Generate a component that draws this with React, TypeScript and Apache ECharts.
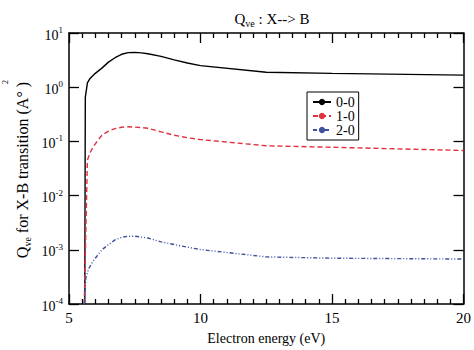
import React, { useEffect, useRef } from "react";
import * as echarts from "echarts";

const energy00 = [5.6, 5.62, 5.7, 5.8, 6.0, 6.25, 6.5, 6.75, 7.0, 7.25, 7.5, 7.75, 8.0, 8.5, 9.0, 9.5, 10, 12.5, 15, 20];
const q00 = [1e-4, 0.65, 1.2, 1.45, 1.8, 2.25, 2.9, 3.5, 4.05, 4.35, 4.4, 4.3, 4.15, 3.7, 3.2, 2.8, 2.5, 1.89, 1.8, 1.67];

const energy10 = [5.58, 5.7, 5.8, 5.9, 6.0, 6.25, 6.5, 6.75, 7.0, 7.25, 7.5, 8.0, 8.5, 9.0, 9.5, 10, 12.5, 15, 20];
const q10 = [1e-4, 0.045, 0.062, 0.076, 0.09, 0.13, 0.155, 0.172, 0.182, 0.186, 0.184, 0.175, 0.15, 0.13, 0.117, 0.108, 0.083, 0.078, 0.068];

const energy20 = [5.58, 5.64, 5.75, 5.9, 6.0, 6.25, 6.5, 6.75, 7.0, 7.25, 7.5, 8.0, 8.5, 9.0, 9.5, 10, 12.5, 15, 20];
const q20 = [1e-4, 0.0003, 0.00045, 0.0006, 0.0007, 0.001, 0.00125, 0.00152, 0.0017, 0.00178, 0.00178, 0.00165, 0.0014, 0.00125, 0.00112, 0.00101, 0.00074, 0.0007, 0.000675];

const seriesNames = ["0-0", "1-0", "2-0"];
const xTickLabels = ["5", "10", "15", "20"];

const FONT = "Liberation Serif";

export default function App() {
  const ref = useRef<HTMLDivElement>(null);
  useEffect(() => {
    if (!ref.current) return;
    const chart = echarts.init(ref.current, null, { renderer: "svg" });
    const zip = (xs: number[], ys: number[]) => xs.map((x, i) => [x, ys[i]]);
    const axisLineStyle = { color: "#000", width: 1.5 };
    const xCommon = {
      type: "value" as const,
      min: 5,
      max: 20,
      interval: 5,
      splitLine: { show: false },
      axisLine: { show: true, onZero: false, lineStyle: axisLineStyle },
      axisTick: { show: true, inside: true, length: 10, lineStyle: { color: "#000", width: 1.3 } },
      minorTick: { show: true, splitNumber: 10, length: 5, lineStyle: { color: "#000", width: 1.3 } },
    };
    const yCommon = {
      type: "log" as const,
      logBase: 10,
      min: 1e-4,
      max: 10,
      splitLine: { show: false },
      axisLine: { show: true, onZero: false, lineStyle: axisLineStyle },
      axisTick: { show: true, inside: true, length: 10, lineStyle: { color: "#000", width: 1.3 } },
      minorTick: { show: false },
    };
    chart.setOption({
      animation: false,
      textStyle: { fontFamily: FONT },
      title: {
        text: "{n|Q}{sub|ve}{n| : X--> B}",
        left: 267,
        textAlign: "center",
        top: 4,
        textStyle: {
          fontFamily: FONT,
          fontWeight: "normal",
          rich: {
            n: { fontFamily: FONT, fontSize: 15, color: "#000", lineHeight: 20, verticalAlign: "middle" },
            sub: { fontFamily: FONT, fontSize: 10, color: "#000", padding: [9, 0, 0, 0], lineHeight: 20 },
          },
        },
      },
      grid: { left: 69, right: 8, top: 33, bottom: 40, containLabel: false },
      legend: {
        orient: "vertical",
        left: 307,
        top: 92,
        data: seriesNames,
        borderColor: "#000",
        borderWidth: 1,
        borderRadius: 0,
        padding: [3, 4, 3, 5],
        itemGap: 0,
        itemWidth: 18,
        itemHeight: 8,
        textStyle: { fontFamily: FONT, fontSize: 14, color: "#000", lineHeight: 13, padding: [0, 0, 0, 0] },
      },
      xAxis: [
        {
          ...xCommon,
          position: "bottom",
          name: "Electron energy (eV)",
          nameLocation: "middle",
          nameGap: 27,
          nameTextStyle: { fontFamily: FONT, fontSize: 14, color: "#000" },
          axisLabel: {
            show: true,
            margin: 6,
            fontFamily: FONT,
            fontSize: 15,
            color: "#000",
            formatter: (v: number) => (xTickLabels.includes(String(v)) ? String(v) : ""),
          },
        },
        { ...xCommon, position: "top", axisLabel: { show: false } },
      ],
      yAxis: [
        {
          ...yCommon,
          position: "left",
          axisLabel: {
            show: true,
            margin: 6,
            formatter: (v: number) => {
              const e = Math.round(Math.log10(v));
              return "{b|10}{s|" + e + "}";
            },
            rich: {
              b: { fontFamily: FONT, fontSize: 14, color: "#000", lineHeight: 16, padding: [4, 0, 0, 0] },
              s: { fontFamily: FONT, fontSize: 9, color: "#000", lineHeight: 16, padding: [0, 0, 6, 0] },
            },
          },
        },
        { ...yCommon, position: "right", axisLabel: { show: false } },
      ],
      graphic: [
        {
          type: "text",
          x: 22,
          y: 170,
          rotation: Math.PI / 2,
          style: {
            text: "{n|Q}{sub|ve}{n| for X-B transition (A° )}",
            fontFamily: FONT,
            align: "center",
            verticalAlign: "middle",
            rich: {
              n: { fontFamily: FONT, fontSize: 16, fill: "#000", lineHeight: 22 },
              sub: { fontFamily: FONT, fontSize: 10, fill: "#000", lineHeight: 22, padding: [10, 0, 0, 0] },
            },
          },
        },
        {
          type: "text",
          x: 5,
          y: 82,
          rotation: Math.PI / 2,
          style: { text: "2", fontFamily: FONT, fontSize: 8, fill: "#000", align: "center", verticalAlign: "middle" },
        },
      ],
      series: [
        {
          name: seriesNames[0],
          type: "line",
          xAxisIndex: 0,
          yAxisIndex: 0,
          data: zip(energy00, q00),
          symbol: "none",
          smooth: false,
          clip: true,
          lineStyle: { color: "#000", width: 1.4, type: "solid" },
          itemStyle: { color: "#000" },
        },
        {
          name: seriesNames[1],
          type: "line",
          xAxisIndex: 0,
          yAxisIndex: 0,
          data: zip(energy10, q10),
          symbol: "none",
          clip: true,
          lineStyle: { color: "#e0303e", width: 1.4, type: [5, 3] },
          itemStyle: { color: "#e0303e" },
        },
        {
          name: seriesNames[2],
          type: "line",
          xAxisIndex: 0,
          yAxisIndex: 0,
          data: zip(energy20, q20),
          symbol: "none",
          clip: true,
          lineStyle: { color: "#3f519b", width: 1.4, type: [4, 2, 1, 2, 1, 2] },
          itemStyle: { color: "#3f519b" },
        },
      ],
    });
    return () => chart.dispose();
  }, []);
  return <div ref={ref} style={{ width: 474, height: 350, position: "absolute", left: 0, top: 0 }} />;
}
